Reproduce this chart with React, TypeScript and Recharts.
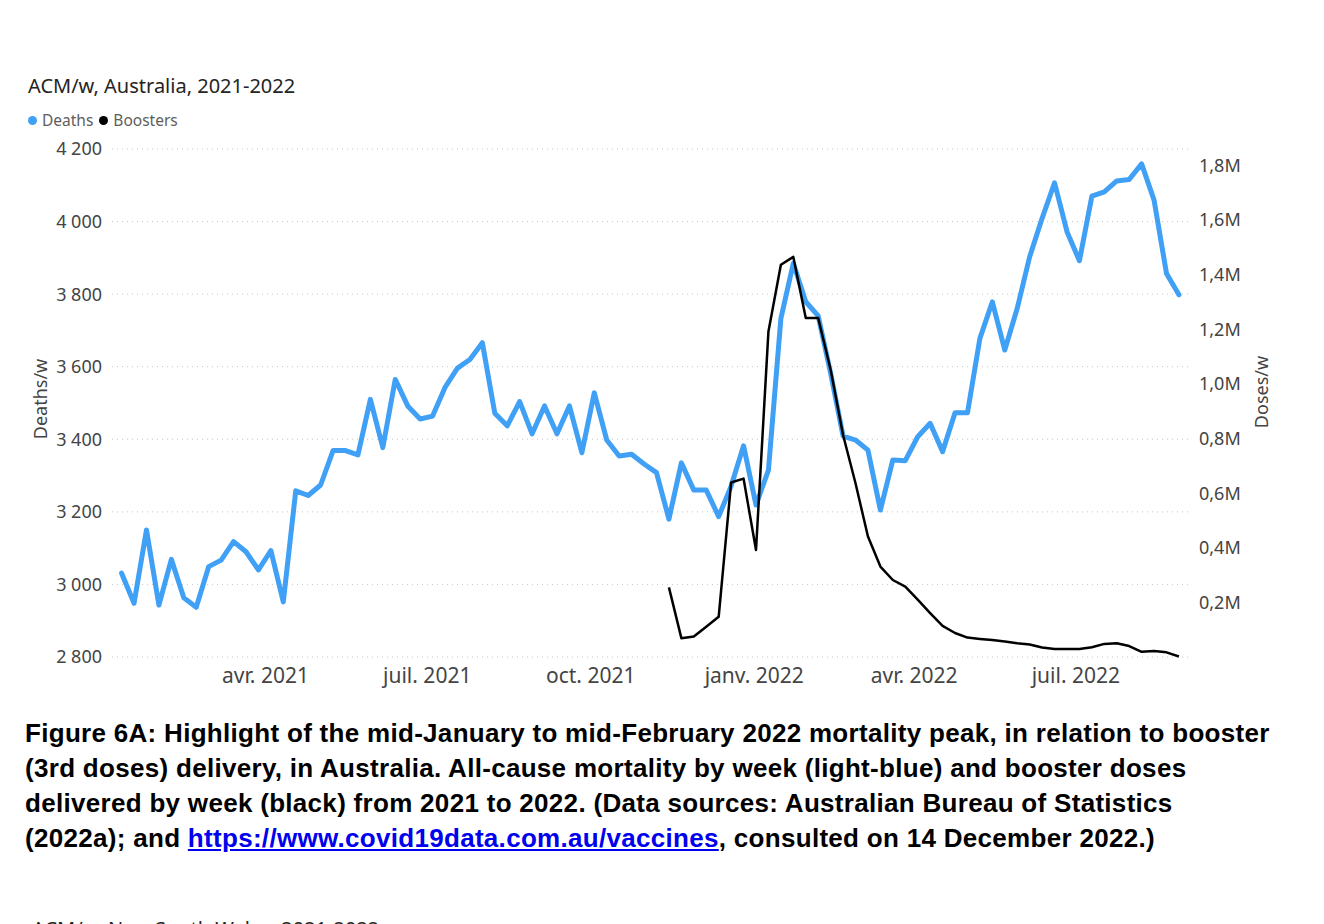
import { LineChart, Line, XAxis, YAxis, CartesianGrid } from "recharts";

const DAY = 86400000;
const WEEK = 7 * DAY;

// weekly all-cause deaths, Australia, first week ending 10 Jan 2021
const firstWeek = Date.UTC(2021, 0, 10);
const deaths = [
  3031, 2948, 3150, 2943, 3069, 2963, 2937, 3049, 3067, 3118,
  3090, 3040, 3093, 2952, 3258, 3245, 3274, 3369, 3369, 3357,
  3510, 3377, 3565, 3492, 3456, 3464, 3543, 3596, 3620, 3666,
  3472, 3437, 3504, 3415, 3492, 3415, 3492, 3363, 3528, 3398,
  3354, 3359, 3332, 3308, 3180, 3335, 3260, 3260, 3187, 3271,
  3382, 3219, 3315, 3733, 3885, 3779, 3740, 3582, 3409, 3398,
  3370, 3205, 3343, 3341, 3407, 3444, 3366, 3473, 3473, 3678,
  3779, 3646, 3761, 3903, 4009, 4107, 3972, 3892, 4070, 4082,
  4112, 4116, 4159, 4059, 3857, 3798,
];

// weekly booster doses, first week ending 14 Nov 2021
const boostersFirstWeek = Date.UTC(2021, 10, 14);
const boosters = [
  255000, 69000, 75000, 111000, 147000, 639000, 653000, 392000, 1192000, 1436000,
  1465000, 1241000, 1241000, 1052000, 813000, 636000, 441000, 331000, 282000, 258000,
  210000, 161000, 114000, 88000, 71000, 66000, 62000, 57000, 50000, 46000,
  35000, 29000, 29000, 29000, 36000, 48000, 50000, 40000, 19000, 22000,
  17000, 2000,
];

const tickDates = [
  Date.UTC(2021, 3, 1),
  Date.UTC(2021, 6, 1),
  Date.UTC(2021, 9, 1),
  Date.UTC(2022, 0, 1),
  Date.UTC(2022, 3, 1),
  Date.UTC(2022, 6, 1),
];
const tickLabels = ["avr. 2021", "juil. 2021", "oct. 2021", "janv. 2022", "avr. 2022", "juil. 2022"];

const deathTicks = [2800, 3000, 3200, 3400, 3600, 3800, 4000, 4200];
const doseTicks = [200000, 400000, 600000, 800000, 1000000, 1200000, 1400000, 1600000, 1800000];

const data = deaths.map((d, i) => {
  const week = firstWeek + i * WEEK;
  const j = Math.round((week - boostersFirstWeek) / WEEK);
  return {
    week,
    deaths: d,
    boosters: j >= 0 && j < boosters.length ? boosters[j] : null,
  };
});

const lastWeek = data[data.length - 1].week;

const BLUE = "#3fa0f5";
const FONT = "'Noto Sans', sans-serif";

const fmtDeaths = (v: number) =>
  `${Math.floor(v / 1000)} ${String(v % 1000).padStart(3, "0")}`;
const fmtDoses = (v: number) => `${(v / 1e6).toFixed(1).replace(".", ",")}M`;
const fmtWeek = (v: number) => tickLabels[tickDates.indexOf(v)] ?? "";

const captionLines = [
  "Figure 6A: Highlight of the mid-January to mid-February 2022 mortality peak, in relation to booster",
  "(3rd doses) delivery, in Australia. All-cause mortality by week (light-blue) and booster doses",
  "delivered by week (black) from 2021 to 2022. (Data sources: Australian Bureau of Statistics",
];

export default function App() {
  const tick = { fill: "#444", fontSize: 18, fontFamily: FONT };
  return (
    <div
      style={{
        position: "absolute",
        left: 0,
        top: 0,
        width: 1324,
        height: 924,
        overflow: "hidden",
        background: "#fff",
        fontFamily: FONT,
      }}
    >
      <div style={{ position: "absolute", left: 28, top: 74, fontSize: 20, lineHeight: "24px", color: "#252423" }}>
        ACM/w, Australia, 2021-2022
      </div>
      <div
        style={{
          position: "absolute",
          left: 28,
          top: 109,
          fontSize: 15.5,
          lineHeight: "22px",
          color: "#605e5c",
          display: "flex",
          alignItems: "center",
        }}
      >
        <span style={{ width: 9, height: 9, borderRadius: 5, background: BLUE, marginRight: 5 }} />
        <span style={{ marginRight: 6 }}>Deaths</span>
        <span style={{ width: 9, height: 9, borderRadius: 5, background: "#000", marginRight: 5 }} />
        <span>Boosters</span>
      </div>

      <div style={{ position: "absolute", left: 0, top: 0 }}>
        <LineChart
          width={1324}
          height={700}
          data={data}
          margin={{ top: 149, right: 36, bottom: 3, left: 12 }}
          style={{ fontFamily: FONT }}
        >
          <CartesianGrid
            yAxisId="left"
            vertical={false}
            stroke="#c8c8c8"
            strokeDasharray="1 4"
          />
          <XAxis
            dataKey="week"
            type="number"
            scale="time"
            domain={[firstWeek - 5.4 * DAY, lastWeek + 5.1 * DAY]}
            ticks={tickDates}
            tickFormatter={fmtWeek}
            axisLine={false}
            tickLine={false}
            tickSize={0}
            tickMargin={11}
            height={40}
            tick={{ ...tick, fontSize: 21 }}
            interval={0}
          />
          <YAxis
            yAxisId="left"
            domain={[2800, 4200]}
            ticks={deathTicks}
            tickFormatter={fmtDeaths}
            axisLine={false}
            tickLine={false}
            tickSize={0}
            tickMargin={10}
            width={100}
            tick={tick}
            interval={0}
          />
          <YAxis
            yAxisId="right"
            orientation="right"
            domain={[0, 1860000]}
            ticks={doseTicks}
            tickFormatter={fmtDoses}
            axisLine={false}
            tickLine={false}
            tickSize={0}
            tickMargin={11}
            width={100}
            tick={{ ...tick, textAnchor: "start" }}
            interval={0}
          />
          <Line
            yAxisId="left"
            type="linear"
            dataKey="deaths"
            stroke={BLUE}
            strokeWidth={5}
            strokeLinejoin="round"
            strokeLinecap="round"
            dot={false}
            isAnimationActive={false}
          />
          <Line
            yAxisId="right"
            type="linear"
            dataKey="boosters"
            stroke="#000"
            strokeWidth={2.5}
            strokeLinejoin="round"
            dot={false}
            isAnimationActive={false}
          />
        </LineChart>
      </div>

      <div
        style={{
          position: "absolute",
          left: 40,
          top: 399,
          transform: "translate(-50%, -50%) rotate(-90deg)",
          fontSize: 18,
          color: "#444",
          whiteSpace: "nowrap",
        }}
      >
        Deaths/w
      </div>
      <div
        style={{
          position: "absolute",
          left: 1261,
          top: 392,
          transform: "translate(-50%, -50%) rotate(-90deg)",
          fontSize: 18,
          color: "#444",
          whiteSpace: "nowrap",
        }}
      >
        Doses/w
      </div>

      <div
        style={{
          position: "absolute",
          left: 25,
          top: 716,
          fontFamily: "'Liberation Sans', Arial, sans-serif",
          fontWeight: "bold",
          fontSize: 26,
          letterSpacing: 0.3,
          lineHeight: "35px",
          color: "#000",
          whiteSpace: "nowrap",
        }}
      >
        {captionLines.map((l) => (
          <div key={l}>{l}</div>
        ))}
        <div>
          (2022a); and{" "}
          <a href="https://www.covid19data.com.au/vaccines" style={{ color: "#0000ee", textDecoration: "underline" }}>
            https://www.covid19data.com.au/vaccines
          </a>
          , consulted on 14 December 2022.)
        </div>
      </div>

      <div style={{ position: "absolute", left: 32, top: 917, fontSize: 20, lineHeight: "24px", color: "#252423", whiteSpace: "nowrap" }}>
        ACM/w, New South Wales, 2021-2022
      </div>
    </div>
  );
}
